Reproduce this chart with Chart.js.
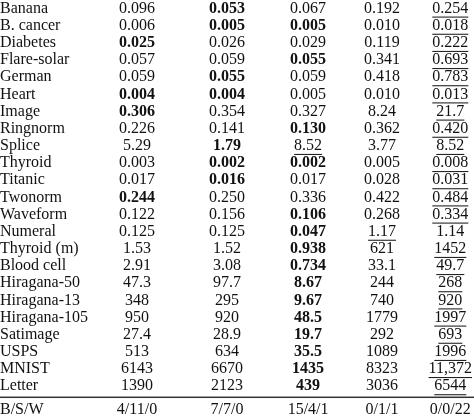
<!DOCTYPE html>
<html>
<head>
<meta charset="utf-8">
<script src="https://cdn.jsdelivr.net/npm/chart.js@4"></script>
<style>
  html, body { margin: 0; padding: 0; background: #fff; }
  #wrap { width: 474px; height: 420px; }
</style>
</head>
<body>
<div id="wrap"><canvas id="tabla"></canvas></div>
<script>
// filas del cuadro; "*" = negrita, "_" = subrayado
const rows = ["Banana", "B. cancer", "Diabetes", "Flare-solar", "German", "Heart", "Image",
  "Ringnorm", "Splice", "Thyroid", "Titanic", "Twonorm", "Waveform", "Numeral", "Thyroid (m)",
  "Blood cell", "Hiragana-50", "Hiragana-13", "Hiragana-105", "Satimage", "USPS", "MNIST", "Letter"];
const col1 = ["0.096", "0.006", "*0.025", "0.057", "0.059", "*0.004", "*0.306", "0.226", "5.29",
  "0.003", "0.017", "*0.244", "0.122", "0.125", "1.53", "2.91", "47.3", "348", "950", "27.4",
  "513", "6143", "1390"];
const col2 = ["*0.053", "*0.005", "0.026", "0.059", "*0.055", "*0.004", "0.354", "0.141", "*1.79",
  "*0.002", "*0.016", "0.250", "0.156", "0.125", "1.52", "3.08", "97.7", "295", "920", "28.9",
  "634", "6670", "2123"];
const col3 = ["0.067", "*0.005", "0.029", "*0.055", "0.059", "0.005", "0.327", "*0.130", "_8.52",
  "*0.002", "0.017", "0.336", "*0.106", "*0.047", "*0.938", "*0.734", "*8.67", "*9.67", "*48.5",
  "*19.7", "*35.5", "*1435", "*439"];
const col4 = ["0.192", "0.010", "0.119", "0.341", "0.418", "0.010", "8.24", "0.362", "3.77",
  "0.005", "0.028", "0.422", "0.268", "_1.17", "621", "33.1", "244", "740", "1779", "292",
  "1089", "8323", "3036"];
const col5 = ["_0.254", "_0.018", "_0.222", "_0.693", "_0.783", "_0.013", "_21.7", "_0.420", "_8.52",
  "_0.008", "_0.031", "_0.484", "_0.334", "1.14", "_1452", "_49.7", "_268", "_920", "_1997", "_693",
  "_1996", "_11,372", "_6544"];
const totalLabel = "B/S/W";
const totals = ["4/11/0", "7/7/0", "15/4/1", "0/1/1", "0/0/22"];

const columns = [col1, col2, col3, col4, col5];
const colPos = [0.289, 0.479, 0.650, 0.806, 0.950]; // centro de cada columna (fracción del ancho)
const FONT = "Liberation Serif";

const tablePlugin = {
  id: "tabla",
  afterDraw(chart) {
    const c = chart.ctx;
    const x = chart.scales.x, y = chart.scales.y;
    const put = (txt, xv, yv, align) => {
      let bold = false, under = false;
      if (txt[0] === "*") { bold = true; txt = txt.slice(1); }
      if (txt[0] === "_") { under = true; txt = txt.slice(1); }
      c.font = (bold ? "bold " : "") + "16px '" + FONT + "'";
      c.textAlign = align;
      c.textBaseline = "middle";
      c.fillStyle = "#111";
      const px = x.getPixelForValue(xv), py = y.getPixelForValue(yv);
      c.fillText(txt, px, py);
      if (under) {
        const w = c.measureText(txt).width;
        c.fillRect(px - w / 2, py + 8, w, 1);
      }
    };
    c.save();
    rows.forEach((r, i) => {
      put(r, 0, i, "left");
      columns.forEach((col, j) => put(col[i], colPos[j], i, "center"));
    });
    // línea separadora
    const ly = y.getPixelForValue(22.6);
    c.fillStyle = "#333";
    c.fillRect(0, ly, chart.width, 1.5);
    put(totalLabel, 0, 23.36, "left");
    totals.forEach((t, j) => put(t, colPos[j], 23.36, "center"));
    c.restore();
  }
};

new Chart(document.getElementById("tabla"), {
  type: "scatter",
  data: { datasets: [] },
  options: {
    responsive: true,
    maintainAspectRatio: false,
    animation: false,
    layout: { padding: { left: 0, right: 0, top: 0, bottom: 2 } },
    plugins: { legend: { display: false }, tooltip: { enabled: false } },
    scales: {
      x: { type: "linear", min: 0, max: 1, display: false },
      y: { type: "linear", min: -0.5, max: 23.85, reverse: true, display: false }
    }
  },
  plugins: [tablePlugin]
});
</script>
</body>
</html>
